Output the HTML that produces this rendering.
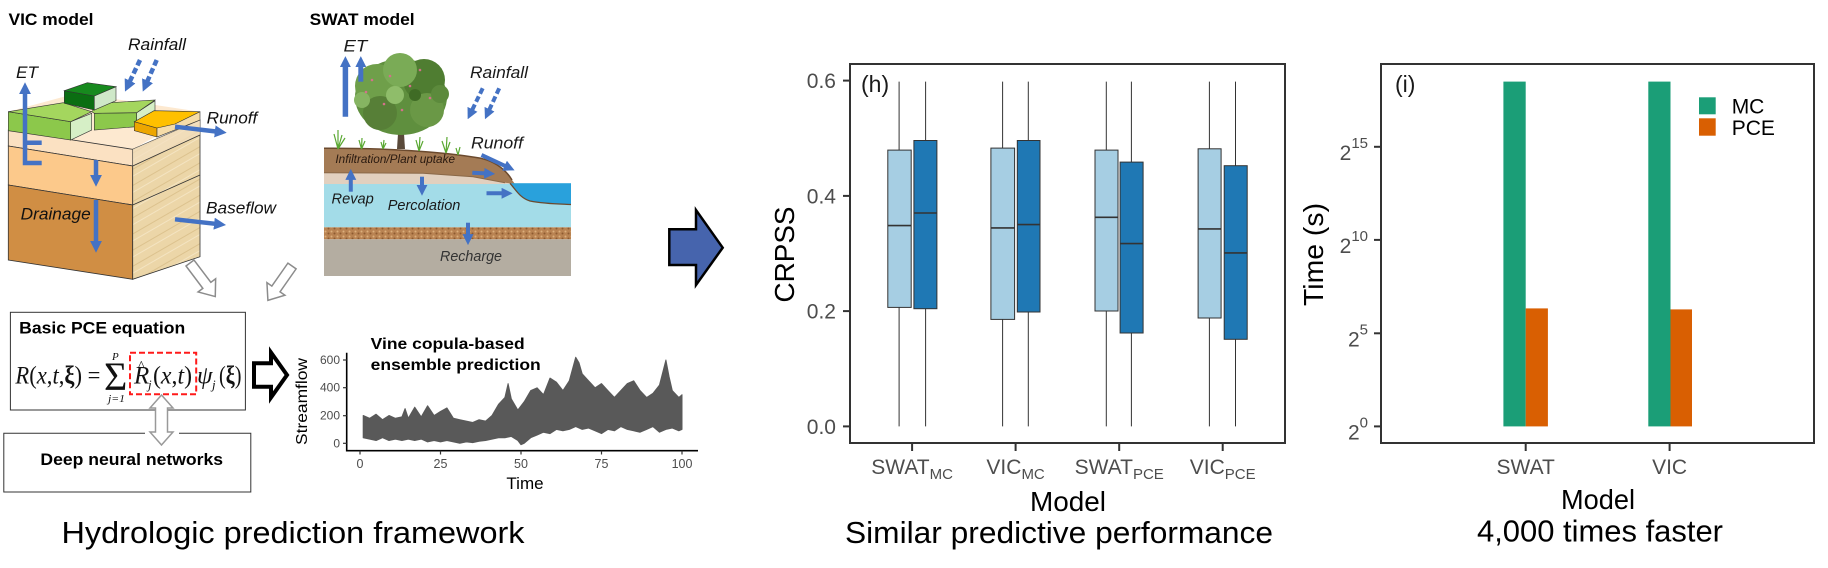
<!DOCTYPE html>
<html><head><meta charset="utf-8"><style>
html,body{margin:0;padding:0;background:#fff;}
svg{display:block;}
text{font-family:"Liberation Sans",Arial,sans-serif;}
.it{font-style:italic;}
.ser{font-family:"Liberation Serif","Times New Roman",serif;}
</style></head><body>
<svg width="1828" height="568" viewBox="0 0 1828 568" xmlns="http://www.w3.org/2000/svg">
<defs>
<marker id="bh" viewBox="0 0 10 10" refX="1" refY="5" markerWidth="12" markerHeight="12" markerUnits="userSpaceOnUse" orient="auto"><path d="M0,0 L10,5 L0,10 z" fill="#4472c4"/></marker>
<marker id="bh2" viewBox="0 0 10 10" refX="1" refY="5" markerWidth="11" markerHeight="11" markerUnits="userSpaceOnUse" orient="auto"><path d="M0,0 L10,5 L0,10 z" fill="#4472c4"/></marker>
<pattern id="grav" width="6" height="5" patternUnits="userSpaceOnUse"><rect width="6" height="5" fill="#b98352"/><circle cx="1.5" cy="1.5" r="1" fill="#dcb07c"/><circle cx="4.5" cy="3.5" r="1" fill="#8e5a30"/></pattern>
<pattern id="wood" width="14" height="14" patternUnits="userSpaceOnUse" patternTransform="rotate(-30)"><rect width="14" height="14" fill="#ecd6a8"/><line x1="0" y1="3" x2="14" y2="3" stroke="#d8bd88" stroke-width="0.8"/><line x1="0" y1="9" x2="14" y2="9" stroke="#f4e4c2" stroke-width="1"/></pattern>
</defs>

<!-- ================= LEFT: VIC model ================= -->
<text x="8.5" y="25" font-size="17" font-weight="bold" textLength="85" lengthAdjust="spacingAndGlyphs">VIC model</text>
<text x="309.6" y="25" font-size="17" font-weight="bold" textLength="105" lengthAdjust="spacingAndGlyphs">SWAT model</text>

<!-- VIC block: top face -->
<polygon points="8.3,130 132.7,149.3 200,111.7 76.7,93.3 8.3,111.7" fill="#fde9d0"/>
<!-- front face layers -->
<polygon points="8.3,130 132.7,149.3 132.7,166 8.3,146" fill="#fbe1c2" stroke="#333" stroke-width="0.8"/>
<polygon points="8.3,146 132.7,166 132.7,205 8.3,185" fill="#fcc98b" stroke="#333" stroke-width="0.8"/>
<polygon points="8.3,185 132.7,205 132.7,279.3 8.3,260" fill="#d08e44" stroke="#333" stroke-width="0.8"/>
<!-- right face -->
<polygon points="132.7,149.3 200,120 200,256.7 132.7,279.3" fill="url(#wood)" stroke="#333" stroke-width="0.8"/>
<polygon points="132.7,149.3 200,120 200,135 132.7,166" fill="#f3e0c2" opacity="0.7"/>
<line x1="132.7" y1="166" x2="200" y2="135" stroke="#333" stroke-width="0.8"/>
<line x1="132.7" y1="205" x2="200" y2="175" stroke="#333" stroke-width="0.8"/>
<!-- green slabs -->
<polygon points="8.3,111.7 70.7,121.7 70.7,140 8.3,130.7" fill="#8cc84b" stroke="#333" stroke-width="0.6"/>
<polygon points="70.7,121.7 91.7,113.3 91.7,130 70.7,140" fill="#d6efc6" stroke="#333" stroke-width="0.6"/>
<polygon points="8.3,111.7 63.3,102.7 91.7,111.7 70.7,121.7" fill="#a4d65e" stroke="#333" stroke-width="0.6"/>
<polygon points="94.3,113.3 136.7,112.7 136.7,126.7 94.3,130" fill="#8cc84b" stroke="#333" stroke-width="0.6"/>
<polygon points="136.7,112.7 155,100.7 155,115 136.7,126.7" fill="#d6efc6" stroke="#333" stroke-width="0.6"/>
<polygon points="91.7,111.7 100,103.3 155,100 136.7,112.7 94.3,113.3" fill="#a4d65e" stroke="#333" stroke-width="0.6"/>
<!-- dark green block -->
<polygon points="64.3,90.7 94.3,96 94.3,110 64.3,103.3" fill="#0b6e12" stroke="#333" stroke-width="0.6"/>
<polygon points="94.3,96 116,86.7 116,100.7 94.3,110" fill="#cfe8c8" stroke="#333" stroke-width="0.6"/>
<polygon points="64.3,90.7 87.3,82.7 116,86.7 94.3,96" fill="#178a1e" stroke="#333" stroke-width="0.6"/>
<!-- orange slab -->
<polygon points="134.3,121.7 157,128 157,137 134.3,130.7" fill="#eda600" stroke="#333" stroke-width="0.6"/>
<polygon points="157,128 200,111.7 200,120 157,137" fill="#f6dca8" stroke="#333" stroke-width="0.6"/>
<polygon points="134.3,121.7 154,110.7 200,111.7 175,124 157,128" fill="#ffc000" stroke="#333" stroke-width="0.6"/>

<!-- VIC arrows -->
<g fill="none" stroke="#4472c4" stroke-width="4.5">
<path d="M41.7,163 H25 V93" marker-end="url(#bh)"/>
<path d="M25,142.7 H41.7"/>
<path d="M96,160 V176" marker-end="url(#bh)"/>
<path d="M96,200 V242" marker-end="url(#bh)"/>
<path d="M175,126.7 L216,131.5" marker-end="url(#bh)"/>
<path d="M175,219.3 L215.3,223.8" marker-end="url(#bh)"/>
<path d="M140,60 L129.6,81.9" stroke-dasharray="6,3" marker-end="url(#bh)"/>
<path d="M156.7,60 L147.1,81.8" stroke-dasharray="6,3" marker-end="url(#bh)"/>
</g>
<g font-size="17" class="it" fill="#111">
<text x="128" y="50" textLength="58" lengthAdjust="spacingAndGlyphs" class="it">Rainfall</text>
<text x="16" y="78" textLength="22" lengthAdjust="spacingAndGlyphs" class="it">ET</text>
<text x="206.7" y="123.3" textLength="50.6" lengthAdjust="spacingAndGlyphs" class="it">Runoff</text>
<text x="206" y="213.3" textLength="70" lengthAdjust="spacingAndGlyphs" class="it">Baseflow</text>
<text x="20.7" y="219.5" textLength="70" lengthAdjust="spacingAndGlyphs" class="it">Drainage</text>
</g>

<!-- ================= SWAT model ================= -->
<rect x="324" y="183.3" width="247" height="44" fill="#a3dce8"/>
<polygon points="324,172.7 423,173.3 473,176.7 505,182.7 512,184 324,184" fill="#e2d0bf"/>
<path d="M324,148.3 C380,148 440,151 481,158.3 C496,162 506,170 512,180 L515,184 L505,182.7 L473,176.7 L423,173.3 L324,172.7 Z" fill="#a47b55"/>
<path d="M324,148.3 C380,148 440,151 481,158.3 C496,162 506,170 512,180" fill="none" stroke="#6b4a2e" stroke-width="1.5"/>
<path d="M324,172.7 L423,173.3 L473,176.7 L505,182.7" fill="none" stroke="#8a6848" stroke-width="1"/>
<path d="M510,183.3 C516,190 520,198 530,201 C545,204 560,204 571,204.5 L571,183.3 Z" fill="#29a1dc"/>
<path d="M510,183.3 C516,190 520,198 530,201 C545,204 560,204 571,204.5" fill="none" stroke="#6b4a2e" stroke-width="1.3"/>
<rect x="324" y="227.3" width="247" height="12" fill="url(#grav)"/>
<rect x="324" y="239.3" width="247" height="36.7" fill="#b4ada1"/>
<!-- tree -->
<g>
<path d="M397,149 L399,118 L403,118 L405,149 Z" fill="#5a4a3a"/>
<path d="M400,125 L388,112 M402,124 L414,110" stroke="#5a4a3a" stroke-width="1.5"/>
<ellipse cx="401" cy="97" rx="46" ry="38" fill="#5f8f3e"/>
<circle cx="377" cy="86" r="22" fill="#6f9f4a"/>
<circle cx="424" cy="80" r="21" fill="#4f7d31"/>
<circle cx="400" cy="70" r="17" fill="#7aab56"/>
<circle cx="380" cy="113" r="17" fill="#577f37"/>
<circle cx="427" cy="110" r="17" fill="#6a9846"/>
<circle cx="440" cy="94" r="9" fill="#5c8a3c"/>
<circle cx="362" cy="100" r="8" fill="#86b462"/>
<circle cx="395" cy="95" r="9" fill="#8fbd6a"/>
<circle cx="415" cy="95" r="6" fill="#3f6b25"/>
<g fill="#d4708a"><circle cx="372" cy="80" r="1.3"/><circle cx="390" cy="76" r="1.3"/><circle cx="410" cy="86" r="1.3"/><circle cx="430" cy="98" r="1.3"/><circle cx="384" cy="104" r="1.3"/><circle cx="420" cy="70" r="1.3"/><circle cx="402" cy="110" r="1.3"/><circle cx="366" cy="92" r="1.3"/></g>
</g>
<!-- grass -->
<g stroke="#5aa832" stroke-width="1.2" fill="none">
<path d="M338,149 L334,134 M338,149 L338,130 M338,149 L342,135 M338,149 L345,138"/>
<path d="M361.5,149 L359,140 M361.5,149 L362,138 M361.5,149 L365,141"/>
<path d="M383,149 L381,142 M383,149 L384,140 M383,149 L386,143"/>
<path d="M419,151 L416,140 M419,151 L420,137 M419,151 L423,141"/>
<path d="M446,153 L442,141 M446,153 L447,137 M446,153 L450,142"/>
<path d="M458,155 L456,148 M458,155 L460,147"/>
</g>
<!-- SWAT arrows -->
<g fill="none" stroke="#4472c4" stroke-width="4">
<path d="M345.4,116.7 V66" stroke-width="5.5" marker-end="url(#bh2)"/>
<path d="M360.8,81.7 V66" stroke-width="5" marker-end="url(#bh2)"/>
<path d="M482.7,88.3 L472,110.3" stroke-dasharray="6,3" marker-end="url(#bh2)"/>
<path d="M499.2,88.3 L489.1,110.2" stroke-dasharray="6,3" marker-end="url(#bh2)"/>
<path d="M481.5,155 L505.6,166.2" marker-end="url(#bh2)"/>
<path d="M472.3,172.7 L485.2,173.4" marker-end="url(#bh2)"/>
<path d="M486.5,193.3 L502.7,193.3" marker-end="url(#bh2)"/>
<path d="M350.8,191.7 V178.8" marker-end="url(#bh2)"/>
<path d="M422,176.7 V185.9" marker-end="url(#bh2)"/>
<path d="M468,222.7 V235.2" marker-end="url(#bh2)"/>
</g>
<g fill="#1a1a1a">
<text x="343.5" y="51.7" font-size="17" class="it" textLength="23.8" lengthAdjust="spacingAndGlyphs">ET</text>
<text x="470" y="78" font-size="17" class="it" textLength="58" lengthAdjust="spacingAndGlyphs">Rainfall</text>
<text x="471" y="148.3" font-size="17" class="it" textLength="52" lengthAdjust="spacingAndGlyphs">Runoff</text>
<text x="335.4" y="163" font-size="12" class="it" textLength="119.6" lengthAdjust="spacingAndGlyphs" fill="#2a1a10">Infiltration/Plant uptake</text>
<text x="331.5" y="203.3" font-size="15" class="it" textLength="42.3" lengthAdjust="spacingAndGlyphs">Revap</text>
<text x="387.7" y="210" font-size="15" class="it" textLength="72.7" lengthAdjust="spacingAndGlyphs">Percolation</text>
<text x="440" y="261" font-size="15" class="it" textLength="62" lengthAdjust="spacingAndGlyphs" fill="#333">Recharge</text>
</g>

<!-- hollow gray arrows -->
<g fill="#fff" stroke="#8c8c8c" stroke-width="1.5">
<polygon points="-5,0 5,0 5,28 11,28 0,42 -11,28 -5,28" transform="translate(190,263) rotate(-37)"/>
<polygon points="-5,0 5,0 5,28 11,28 0,42 -11,28 -5,28" transform="translate(292,266) rotate(35)"/>
</g>

<!-- PCE box -->
<rect x="10.4" y="312.3" width="235" height="97.7" fill="#fff" stroke="#333" stroke-width="1"/>
<text x="19.2" y="333.3" font-size="17" font-weight="bold" textLength="166" lengthAdjust="spacingAndGlyphs">Basic PCE equation</text>
<g class="ser" fill="#111">
<text x="15.4" y="383.3" font-size="25" class="ser" textLength="85" lengthAdjust="spacingAndGlyphs"><tspan font-style="italic">R</tspan>(<tspan font-style="italic">x</tspan>,<tspan font-style="italic">t</tspan>,<tspan font-weight="bold">ξ</tspan>) =</text>
<text x="104" y="390" font-size="40" class="ser">Σ</text>
<text x="112" y="360" font-size="11" class="ser" font-style="italic">P</text>
<text x="108" y="402" font-size="11" class="ser" font-style="italic" textLength="17" lengthAdjust="spacingAndGlyphs">j=1</text>
<text x="134" y="383.3" font-size="25" class="ser" font-style="italic">R</text>
<text x="138" y="370" font-size="14" class="ser">^</text>
<text x="148" y="389" font-size="13" class="ser" font-style="italic">j</text>
<text x="153" y="383.3" font-size="25" class="ser" textLength="39" lengthAdjust="spacingAndGlyphs">(<tspan font-style="italic">x</tspan>,<tspan font-style="italic">t</tspan>)</text>
<text x="197" y="383.3" font-size="25" class="ser" font-style="italic">ψ</text>
<text x="212" y="389" font-size="13" class="ser" font-style="italic">j</text>
<text x="219" y="383.3" font-size="25" class="ser" textLength="22.5" lengthAdjust="spacingAndGlyphs">(<tspan font-weight="bold">ξ</tspan>)</text>
</g>
<rect x="130" y="352.7" width="66.2" height="41.6" fill="none" stroke="#ff1a1a" stroke-width="2" stroke-dasharray="6,3"/>

<!-- DNN box -->
<path d="M145,433.3 H3.8 V492 H250.8 V433.3 H179" fill="none" stroke="#333" stroke-width="1"/>
<text x="40.4" y="465" font-size="17" font-weight="bold" textLength="182.6" lengthAdjust="spacingAndGlyphs">Deep neural networks</text>
<polygon points="161.5,395 173,408 167.5,408 167.5,432 173,432 161.5,445 150,432 155.5,432 155.5,408 150,408" fill="#fff" stroke="#999" stroke-width="1.5"/>

<!-- black hollow arrow -->
<polygon points="254,363.3 271,363.3 271,352.5 287,375 271,397.5 271,386.7 254,386.7" fill="#fff" stroke="#000" stroke-width="4" stroke-linejoin="miter"/>

<!-- streamflow plot -->
<text x="370.7" y="349" font-size="16" font-weight="bold" textLength="154" lengthAdjust="spacingAndGlyphs">Vine copula-based</text>
<text x="370.7" y="370" font-size="16" font-weight="bold" textLength="170" lengthAdjust="spacingAndGlyphs">ensemble prediction</text>
<polygon fill="#595959" stroke="#595959" stroke-width="1" stroke-linejoin="round" points="363.2,415.5 369.7,418.3 376.1,414.2 382.5,419.7 389.0,415.5 395.4,418.3 401.9,416.9 405.1,408.6 408.3,418.3 414.7,407.2 421.2,416.9 427.6,405.8 434.1,415.5 440.5,411.4 446.9,407.9 453.4,418.3 459.8,419.7 466.3,421.1 472.7,422.5 479.1,419.7 485.6,421.1 492.0,415.5 498.5,404.4 504.9,397.5 508.1,383.6 511.3,398.9 517.8,410.0 524.2,401.7 530.7,390.6 537.1,387.8 543.5,394.7 550.0,378.1 556.4,382.2 562.9,390.6 569.3,380.8 575.7,357.2 579.0,362.8 582.2,373.9 588.6,380.8 595.1,387.8 601.5,383.6 607.9,390.6 614.4,397.5 620.8,390.6 627.3,383.6 633.7,380.8 640.1,390.6 646.6,397.5 653.0,393.3 659.5,385.0 665.9,360.0 669.1,376.7 672.3,390.6 678.8,397.5 682.0,394.7 682.0,429.4 678.8,430.8 672.3,428.0 665.9,429.4 659.5,432.2 653.0,426.6 646.6,429.4 640.1,432.2 633.7,430.8 627.3,429.4 620.8,426.6 614.4,430.8 607.9,429.4 601.5,433.6 595.1,430.8 588.6,428.0 582.2,429.4 575.7,426.6 569.3,429.4 562.9,430.8 556.4,429.4 550.0,433.6 543.5,432.2 537.1,435.0 530.7,437.7 524.2,443.3 521.0,444.7 517.8,440.5 511.3,436.4 504.9,437.7 498.5,437.7 492.0,439.1 485.6,440.5 479.1,441.2 472.7,442.6 466.3,441.9 459.8,443.3 453.4,441.9 446.9,440.5 440.5,441.9 434.1,440.5 427.6,441.9 421.2,439.1 414.7,440.5 408.3,439.1 401.9,440.5 395.4,439.1 389.0,440.5 382.5,437.7 376.1,440.5 369.7,439.1 363.2,437.7"/>
<path d="M346.7,352.7 V450.7 H698" fill="none" stroke="#000" stroke-width="1.6"/>
<g stroke="#333" stroke-width="1.2">
<line x1="343" y1="360" x2="346.7" y2="360"/><line x1="343" y1="387.7" x2="346.7" y2="387.7"/><line x1="343" y1="415.7" x2="346.7" y2="415.7"/><line x1="343" y1="443.3" x2="346.7" y2="443.3"/>
<line x1="360" y1="450.7" x2="360" y2="454.5"/><line x1="440.5" y1="450.7" x2="440.5" y2="454.5"/><line x1="521" y1="450.7" x2="521" y2="454.5"/><line x1="601.5" y1="450.7" x2="601.5" y2="454.5"/><line x1="682" y1="450.7" x2="682" y2="454.5"/>
</g>
<g font-size="12" fill="#4d4d4d" text-anchor="end">
<text x="340" y="364">600</text><text x="340" y="391.7">400</text><text x="340" y="419.7">200</text><text x="340" y="447.3">0</text>
</g>
<g font-size="12.5" fill="#4d4d4d" text-anchor="middle">
<text x="360" y="468">0</text><text x="440.5" y="468">25</text><text x="521" y="468">50</text><text x="601.5" y="468">75</text><text x="682" y="468">100</text>
</g>
<text x="525" y="489" font-size="17" text-anchor="middle">Time</text>
<text transform="translate(307,401.5) rotate(-90)" font-size="16" text-anchor="middle" textLength="87" lengthAdjust="spacingAndGlyphs">Streamflow</text>

<text x="61.5" y="543" font-size="31" textLength="463" lengthAdjust="spacingAndGlyphs">Hydrologic prediction framework</text>

<!-- middle blue arrow -->
<polygon points="669.3,229.3 696,229.3 696,210 722.7,247.7 696,285 696,265 669.3,265" fill="#4664ad" stroke="#000" stroke-width="2.5"/>

<!-- ================= Panel (h) ================= -->
<g stroke="#333" stroke-width="1">
<line x1="899.1" y1="81.6" x2="899.1" y2="426.4"/><line x1="925.6" y1="81.6" x2="925.6" y2="426.4"/>
<line x1="1002.6" y1="81.6" x2="1002.6" y2="426.4"/><line x1="1028.3" y1="81.6" x2="1028.3" y2="426.4"/>
<line x1="1106.3" y1="81.6" x2="1106.3" y2="426.4"/><line x1="1131.4" y1="81.6" x2="1131.4" y2="426.4"/>
<line x1="1209.4" y1="81.6" x2="1209.4" y2="426.4"/><line x1="1235.5" y1="81.6" x2="1235.5" y2="426.4"/>
</g>
<g stroke="#333" stroke-width="1">
<rect x="887.8" y="150.1" width="23.4" height="157.3" fill="#a6cee3"/>
<rect x="913.9" y="140.5" width="23" height="168.2" fill="#1f78b4"/>
<rect x="990.9" y="148.1" width="23.7" height="171.3" fill="#a6cee3"/>
<rect x="1017.3" y="140.5" width="22.7" height="171.5" fill="#1f78b4"/>
<rect x="1095" y="150.1" width="23" height="160.9" fill="#a6cee3"/>
<rect x="1120.1" y="162.1" width="23" height="170.9" fill="#1f78b4"/>
<rect x="1198.1" y="148.8" width="23" height="169.2" fill="#a6cee3"/>
<rect x="1224.2" y="165.7" width="23" height="173.6" fill="#1f78b4"/>
</g>
<g stroke="#333" stroke-width="1.6">
<line x1="887.8" y1="225.6" x2="911.2" y2="225.6"/><line x1="913.9" y1="213" x2="936.9" y2="213"/>
<line x1="990.9" y1="227.9" x2="1014.6" y2="227.9"/><line x1="1017.3" y1="224.6" x2="1040" y2="224.6"/>
<line x1="1095" y1="217.3" x2="1118" y2="217.3"/><line x1="1120.1" y1="243.6" x2="1143.1" y2="243.6"/>
<line x1="1198.1" y1="228.9" x2="1221.1" y2="228.9"/><line x1="1224.2" y1="252.9" x2="1247.2" y2="252.9"/>
</g>
<rect x="850" y="64" width="435" height="379" fill="none" stroke="#333" stroke-width="2"/>
<g stroke="#333" stroke-width="2">
<line x1="843" y1="80.6" x2="850" y2="80.6"/><line x1="843" y1="195.9" x2="850" y2="195.9"/><line x1="843" y1="311.1" x2="850" y2="311.1"/><line x1="843" y1="426.4" x2="850" y2="426.4"/>
<line x1="912.1" y1="443" x2="912.1" y2="451"/><line x1="1015.6" y1="443" x2="1015.6" y2="451"/><line x1="1119.2" y1="443" x2="1119.2" y2="451"/><line x1="1222.7" y1="443" x2="1222.7" y2="451"/>
</g>
<g font-size="21" fill="#4d4d4d" text-anchor="end">
<text x="836" y="88">0.6</text><text x="836" y="203.4">0.4</text><text x="836" y="318.6">0.2</text><text x="836" y="434">0.0</text>
</g>
<g font-size="21" fill="#4d4d4d" text-anchor="middle">
<text x="912.1" y="474">SWAT<tspan font-size="15" dy="5">MC</tspan></text>
<text x="1015.6" y="474">VIC<tspan font-size="15" dy="5">MC</tspan></text>
<text x="1119.2" y="474">SWAT<tspan font-size="15" dy="5">PCE</tspan></text>
<text x="1222.7" y="474">VIC<tspan font-size="15" dy="5">PCE</tspan></text>
</g>
<text x="861" y="92" font-size="23" fill="#1a1a1a">(h)</text>
<text transform="translate(794,254.5) rotate(-90)" font-size="28" text-anchor="middle" textLength="96" lengthAdjust="spacingAndGlyphs">CRPSS</text>
<text x="1068" y="511" font-size="28" text-anchor="middle" textLength="76" lengthAdjust="spacingAndGlyphs">Model</text>
<text x="845" y="543" font-size="31" textLength="428" lengthAdjust="spacingAndGlyphs">Similar predictive performance</text>

<!-- ================= Panel (i) ================= -->
<rect x="1503.4" y="81.6" width="22.3" height="344.8" fill="#1b9e77"/>
<rect x="1525.7" y="308.4" width="22.2" height="118" fill="#d95f02"/>
<rect x="1648.3" y="81.6" width="22.2" height="344.8" fill="#1b9e77"/>
<rect x="1670.5" y="309.4" width="21.5" height="117" fill="#d95f02"/>
<rect x="1381" y="64" width="433" height="379" fill="none" stroke="#333" stroke-width="2"/>
<g stroke="#333" stroke-width="2">
<line x1="1374" y1="146.8" x2="1381" y2="146.8"/><line x1="1374" y1="239.9" x2="1381" y2="239.9"/><line x1="1374" y1="333.3" x2="1381" y2="333.3"/><line x1="1374" y1="426.4" x2="1381" y2="426.4"/>
<line x1="1525.7" y1="443" x2="1525.7" y2="451"/><line x1="1669.6" y1="443" x2="1669.6" y2="451"/>
</g>
<g font-size="21" fill="#4d4d4d" text-anchor="end">
<text x="1368" y="159.8">2<tspan font-size="15" dy="-11.8">15</tspan></text>
<text x="1368" y="252.9">2<tspan font-size="15" dy="-11.8">10</tspan></text>
<text x="1368" y="346.3">2<tspan font-size="15" dy="-11.8">5</tspan></text>
<text x="1368" y="439.4">2<tspan font-size="15" dy="-11.8">0</tspan></text>
</g>
<g font-size="21" fill="#4d4d4d" text-anchor="middle">
<text x="1525.7" y="474">SWAT</text><text x="1669.6" y="474">VIC</text>
</g>
<text x="1395" y="92" font-size="23" fill="#1a1a1a">(i)</text>
<rect x="1699" y="97.3" width="16.7" height="17" fill="#1b9e77"/>
<rect x="1699" y="118.3" width="16.7" height="17.4" fill="#d95f02"/>
<text x="1731.7" y="113.3" font-size="21">MC</text>
<text x="1731.7" y="135" font-size="21">PCE</text>
<text transform="translate(1323,254.5) rotate(-90)" font-size="28" text-anchor="middle" textLength="103" lengthAdjust="spacingAndGlyphs">Time (s)</text>
<text x="1598" y="509" font-size="28" text-anchor="middle" textLength="74" lengthAdjust="spacingAndGlyphs">Model</text>
<text x="1477" y="541.5" font-size="31" textLength="246" lengthAdjust="spacingAndGlyphs">4,000 times faster</text>
</svg>
</body></html>
